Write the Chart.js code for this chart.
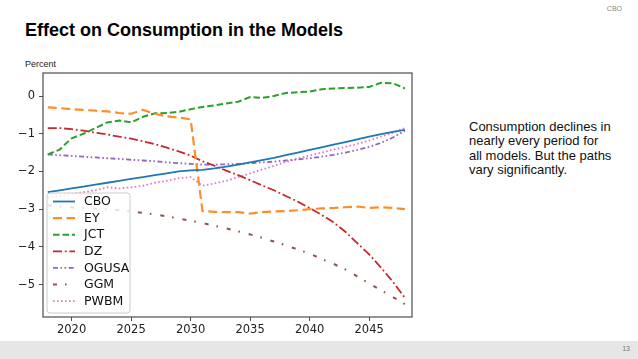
<!DOCTYPE html>
<html>
<head>
<meta charset="utf-8">
<script src="https://cdn.jsdelivr.net/npm/chart.js@4.4.1/dist/chart.umd.min.js"></script>
<style>
    html, body { margin: 0; padding: 0; background: #fff; }
    body { width: 638px; height: 359px; position: relative; overflow: hidden; font-family: "Liberation Sans", Arial, sans-serif; }
    .tag { position: absolute; right: 16px; top: 5px; font-size: 7px; color: #888; }
    h1 { position: absolute; left: 25px; top: 20px; margin: 0; font-size: 18px; font-weight: bold; color: #000; }
    .unit { position: absolute; left: 25px; top: 59px; font-size: 9px; color: #222; }
    .note { position: absolute; left: 469px; top: 120px; font-size: 13px; line-height: 14.3px; color: #111; }
    .chart-wrap { position: absolute; left: 0; top: 60px; width: 420px; height: 285px; }
    .footer { position: absolute; left: 0; top: 341px; width: 638px; height: 18px; background: #e6e6e6; }
    .footer span { position: absolute; right: 8px; top: 4px; font-size: 7px; color: #777; }
</style>
</head>
<body>
<div class="tag">CBO</div>
<h1>Effect on Consumption in the Models</h1>
<div class="unit">Percent</div>
<div class="note">Consumption declines in<br>nearly every period for<br>all models. But the paths<br>vary significantly.</div>
<div class="chart-wrap"><canvas id="consChart" width="420" height="285"></canvas></div>
<div class="footer"><span>13</span></div>

<script>
const years = [2018, 2019, 2020, 2021, 2022, 2023, 2024, 2025, 2026, 2027, 2028, 2029, 2030,
    2031, 2032, 2033, 2034, 2035, 2036, 2037, 2038, 2039, 2040, 2041, 2042, 2043, 2044, 2045, 2046, 2047, 2048];

const cbo = [-2.55, -2.5, -2.45, -2.4, -2.35, -2.3, -2.25, -2.2, -2.15, -2.1, -2.05, -2.0, -1.97,
    -1.96, -1.92, -1.87, -1.82, -1.76, -1.7, -1.64, -1.57, -1.5, -1.43, -1.36, -1.29, -1.22, -1.15, -1.08, -1.01, -0.95, -0.9];
const ey = [-0.3, -0.32, -0.35, -0.37, -0.39, -0.41, -0.45, -0.47, -0.37, -0.47, -0.54, -0.57, -0.62,
    -3.05, -3.07, -3.08, -3.08, -3.12, -3.08, -3.06, -3.05, -3.03, -3.0, -2.98, -2.97, -2.95, -2.93, -2.97, -2.95, -2.97, -3.0];
const jct = [-1.55, -1.42, -1.12, -1.0, -0.85, -0.7, -0.65, -0.7, -0.55, -0.46, -0.45, -0.42, -0.35,
    -0.29, -0.25, -0.2, -0.15, -0.03, -0.05, 0.0, 0.08, 0.1, 0.12, 0.18, 0.2, 0.21, 0.22, 0.24, 0.35, 0.34, 0.2];
const dz = [-0.85, -0.85, -0.88, -0.92, -0.97, -1.02, -1.08, -1.13, -1.2, -1.28, -1.37, -1.47, -1.58,
    -1.73, -1.85, -1.98, -2.1, -2.23, -2.37, -2.5, -2.65, -2.8, -2.97, -3.15, -3.35, -3.6, -3.9, -4.2, -4.55, -4.93, -5.35];
const ogusa = [-1.55, -1.57, -1.59, -1.61, -1.63, -1.65, -1.67, -1.69, -1.71, -1.73, -1.76, -1.78, -1.8,
    -1.82, -1.82, -1.81, -1.8, -1.78, -1.76, -1.74, -1.71, -1.68, -1.65, -1.61, -1.56, -1.5, -1.43, -1.35, -1.24, -1.1, -0.92];
const ggm = [-2.9, -2.93, -2.95, -2.97, -2.99, -3.01, -3.03, -3.06, -3.1, -3.14, -3.19, -3.25, -3.31,
    -3.37, -3.44, -3.51, -3.59, -3.67, -3.76, -3.86, -3.96, -4.07, -4.18, -4.32, -4.45, -4.6, -4.78, -4.97, -5.15, -5.33, -5.52];
const pwbm = [-2.7, -2.65, -2.6, -2.55, -2.5, -2.42, -2.45, -2.42, -2.38, -2.3, -2.25, -2.18, -2.15,
    -2.38, -2.32, -2.25, -2.15, -2.05, -1.95, -1.85, -1.75, -1.66, -1.58, -1.5, -1.42, -1.35, -1.27, -1.18, -1.08, -0.97, -0.85];

const xTicks = [2020, 2025, 2030, 2035, 2040, 2045];
const yTicks = [-5, -4, -3, -2, -1, 0];

const series = [
    { label: 'CBO', values: cbo, color: '#1f77b4', width: 1.8, dash: [] },
    { label: 'EY', values: ey, color: '#fd8d2a', width: 2.2, dash: [9, 4.5] },
    { label: 'JCT', values: jct, color: '#2ca02c', width: 2.0, dash: [6.5, 3] },
    { label: 'DZ', values: dz, color: '#c9272a', width: 1.8, dash: [9, 2.8, 1.8, 2.8] },
    { label: 'OGUSA', values: ogusa, color: '#9467bd', width: 1.8, dash: [5, 2.5, 1.6, 2.5, 1.6, 2.5] },
    { label: 'GGM', values: ggm, color: '#8c564b', width: 2.0, dash: [4, 8, 1.6, 9] },
    { label: 'PWBM', values: pwbm, color: '#e377c2', width: 1.8, dash: [1.6, 2.4] }
];

const tickFont = { family: '"DejaVu Sans", sans-serif', size: 11.5 };

function fmtMinus(v) {
    return v < 0 ? '\u2212' + Math.abs(v) : String(v);
}

// box round the plot, like matplotlib spines
const framePlugin = {
    id: 'frame',
    afterDraw(chart) {
        const { ctx, chartArea: a } = chart;
        ctx.save();
        ctx.strokeStyle = '#4d4d4d';
        ctx.lineWidth = 1.2;
        ctx.strokeRect(a.left, a.top, a.right - a.left, a.bottom - a.top);
        ctx.restore();
    }
};

// legend box in the lower left corner of the plot
const boxLegend = {
    id: 'boxLegend',
    afterDatasetsDraw(chart) {
        const { ctx, chartArea: a } = chart;
        const x0 = a.left + 4, y0 = a.bottom - 124, w = 83, h = 120;
        ctx.save();
        ctx.beginPath();
        ctx.roundRect(x0, y0, w, h, 3);
        ctx.fillStyle = 'rgba(255,255,255,0.8)';
        ctx.fill();
        ctx.strokeStyle = '#cccccc';
        ctx.lineWidth = 1;
        ctx.stroke();
        ctx.font = '12.5px "DejaVu Sans", sans-serif';
        ctx.textBaseline = 'middle';
        chart.data.datasets.forEach((ds, i) => {
            const y = y0 + 8.5 + i * 16.6;
            ctx.beginPath();
            ctx.setLineDash(ds.borderDash || []);
            ctx.strokeStyle = ds.borderColor;
            ctx.lineWidth = ds.borderWidth;
            ctx.moveTo(x0 + 6, y);
            ctx.lineTo(x0 + 28, y);
            ctx.stroke();
            ctx.setLineDash([]);
            ctx.fillStyle = '#111';
            ctx.fillText(ds.label, x0 + 37, y + 0.5);
        });
        ctx.restore();
    }
};

new Chart(document.getElementById('consChart'), {
    type: 'line',
    data: {
        datasets: series.map(s => ({
            label: s.label,
            data: s.values.map((v, i) => ({ x: years[i], y: v })),
            borderColor: s.color,
            backgroundColor: s.color,
            borderWidth: s.width,
            borderDash: s.dash,
            pointRadius: 0,
            tension: 0,
            fill: false
        }))
    },
    options: {
        responsive: false,
        animation: false,
        layout: { padding: { top: 13, right: 8, left: 0, bottom: 0 } },
        plugins: {
            legend: { display: false },
            tooltip: { enabled: false }
        },
        scales: {
            x: {
                type: 'linear',
                min: 2017.6,
                max: 2048.6,
                afterBuildTicks: scale => { scale.ticks = xTicks.map(v => ({ value: v })); },
                afterFit: scale => { scale.height = 28; },
                ticks: { font: tickFont, color: '#222', padding: 2, callback: v => String(v) },
                grid: { drawOnChartArea: false, drawTicks: true, tickLength: 4, color: '#4d4d4d' },
                border: { display: false }
            },
            y: {
                min: -5.86,
                max: 0.61,
                afterBuildTicks: scale => { scale.ticks = yTicks.map(v => ({ value: v })); },
                afterFit: scale => { scale.width = 43; },
                ticks: { font: tickFont, color: '#222', padding: 4, callback: v => fmtMinus(v) },
                grid: { drawOnChartArea: false, drawTicks: true, tickLength: 4, color: '#4d4d4d' },
                border: { display: false }
            }
        }
    },
    plugins: [boxLegend, framePlugin]
});
</script>
</body>
</html>
